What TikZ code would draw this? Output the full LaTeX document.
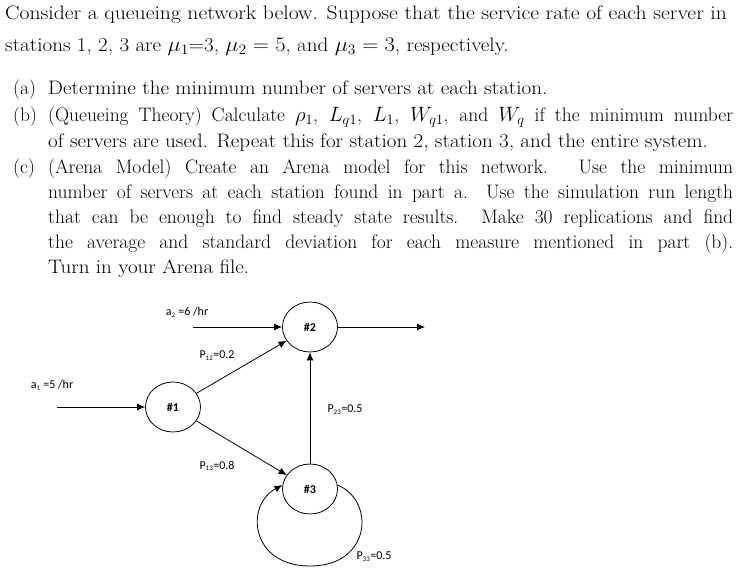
\documentclass[tikz,border=0pt]{standalone}
\usepackage{fontspec}
\usepackage{graphicx}
\newfontfamily\diagfont{Carlito}
\tikzset{
 txt/.style={anchor=base west,inner sep=0pt,font=\fontsize{19.5}{22}\selectfont},
 st/.style={draw,line width=0.8pt,ellipse,minimum width=55pt,minimum height=50pt,inner sep=0pt,font=\diagfont\fontsize{12}{14}\selectfont\bfseries},
 lab/.style={font=\diagfont\fontsize{12}{14}\selectfont,inner sep=0pt},
 arr/.style={draw,line width=0.8pt,-{Latex[length=8pt,width=7pt]}},
}
\usetikzlibrary{shapes.geometric,arrows.meta}
\newcommand{\jl}[1]{\makebox[685pt][s]{#1}}
\newcommand{\wl}[1]{\scalebox{1.08}[1]{#1}}
\newcommand{\sbs}[1]{$_{\mbox{\fontsize{7}{8}\selectfont #1}}$}
\begin{document}
\begin{tikzpicture}[x=1pt,y=-1pt]
\useasboundingbox (0,0) rectangle (740,582);
\begin{scope}
\clip (0,0) rectangle (740,582);
\node[txt] (l1) at (5,19) {\scalebox{1.11}[1]{Consider a queueing network below. Suppose that the service rate of each server in}};
\end{scope}
\node[txt] (l2) at (5,51) {\wl{stations 1, 2, 3 are $\mu_1$=3, $\mu_2=5$, and $\mu_3=3$, respectively.}};
\node[txt] (a1l) at (13,94) {(a)};
\node[txt] (a2l) at (48,94) {\wl{Determine the minimum number of servers at each station.}};
\node[txt] (b0) at (13,121) {(b)};
\node[txt] (b1) at (48,121) {\jl{(Queueing Theory) Calculate $\rho_1$, $L_{q1}$, $L_1$, $W_{q1}$, and $W_q$ if the minimum number}};
\node[txt] (b2) at (48,147) {\wl{of servers are used. Repeat this for station 2, station 3, and the entire system.}};
\node[txt] (c0) at (13,173) {(c)};
\node[txt] (c1) at (48,173) {\jl{(Arena Model) Create an Arena model for this network. Use the minimum}};
\node[txt] (c2) at (48,198) {\jl{number of servers at each station found in part a. Use the simulation run length}};
\node[txt] (c3) at (48,223) {\jl{that can be enough to find steady state results. Make 30 replications and find}};
\node[txt] (c4) at (48,248) {\jl{the average and standard deviation for each measure mentioned in part (b).}};
\node[txt] (c5) at (48,273) {\wl{Turn in your Arena file.}};

\node[st] (s2) at (310,327) {\#2};
\node[st] (s1) at (173,407) {\#1};
\node[st] (s3) at (310,489) {\#3};
\coordinate (in2) at (193,327);
\coordinate (out2) at (425,327);
\coordinate (in1) at (57,407);
\path[arr] (in2) -- (s2);
\path[arr] (s2) -- (out2);
\path[arr] (in1) -- (s1);
\path[arr] (s1) -- (s2);
\path[arr] (s1) -- (s3);
\path[arr] (s3) -- (s2);
\path[arr] (s3.8) .. controls (375,500) and (372,566) .. (310,566) .. controls (250,566) and (245,505) .. (s3.172);
\node[lab] (la2) at (187,312) {a\sbs{2} =6 /hr};
\node[lab] (lp12) at (217,356) {P\sbs{12}=0.2};
\node[lab] (la1) at (52,385) {a\sbs{1} =5 /hr};
\node[lab] (lp13) at (217,466) {P\sbs{13}=0.8};
\node[lab] (lp23) at (345,410) {P\sbs{23}=0.5};
\node[lab] (lp33) at (374,557) {P\sbs{33}=0.5};
\end{tikzpicture}
\end{document}
